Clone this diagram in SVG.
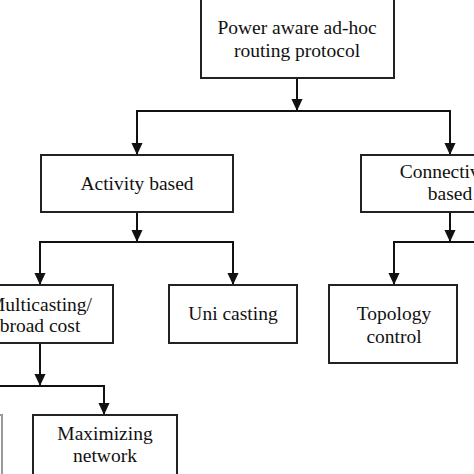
<svg xmlns="http://www.w3.org/2000/svg" width="474" height="474" viewBox="0 0 474 474">
<style>
.box{fill:#fff;stroke:#222;stroke-width:2}
.t{font-family:"Liberation Serif","Times New Roman",serif;font-size:19.5px;fill:#111;text-anchor:middle}
.c{fill:none;stroke:#111;stroke-width:2}
</style>
<defs>
<marker id="a" markerWidth="12" markerHeight="12" refX="13" refY="6" orient="auto" markerUnits="userSpaceOnUse" viewBox="0 0 13 12">
<path d="M0,0 L13,6 L0,12 Z" fill="#111"/>
</marker>
</defs>
<rect width="474" height="474" fill="#fff"/>
<g id="connectors">
<line class="c" x1="297" y1="78" x2="297" y2="111" marker-end="url(#a)"/>
<polyline class="c" points="137,154 137,111 450,111 450,154"/>
<line class="c" x1="137" y1="111" x2="137" y2="155" marker-end="url(#a)"/>
<line class="c" x1="450" y1="111" x2="450" y2="155" marker-end="url(#a)"/>
<line class="c" x1="137" y1="212" x2="137" y2="242" marker-end="url(#a)"/>
<polyline class="c" points="40,284 40,242 233,242 233,284"/>
<line class="c" x1="40" y1="242" x2="40" y2="285" marker-end="url(#a)"/>
<line class="c" x1="233" y1="242" x2="233" y2="285" marker-end="url(#a)"/>
<line class="c" x1="450" y1="212" x2="450" y2="242" marker-end="url(#a)"/>
<polyline class="c" points="394,284 394,242 476,242"/>
<line class="c" x1="394" y1="242" x2="394" y2="285" marker-end="url(#a)"/>
<line class="c" x1="40" y1="343" x2="40" y2="386" marker-end="url(#a)"/>
<polyline class="c" points="-2,386 104,386 104,414"/>
<line class="c" x1="104" y1="386" x2="104" y2="415" marker-end="url(#a)"/>
</g>
<g id="n-root">
<rect class="box" x="201" y="-4" width="193" height="82"/>
<text class="t" x="297" y="34">Power aware ad-hoc</text>
<text class="t" x="297" y="57">routing protocol</text>
</g>
<g id="n-activity">
<rect class="box" x="41" y="155" width="192" height="57"/>
<text class="t" x="137" y="190">Activity based</text>
</g>
<g id="n-connectivity">
<rect class="box" x="361" y="155" width="180" height="57"/>
<text class="t" x="450" y="178">Connectivity</text>
<text class="t" x="450" y="200">based</text>
</g>
<g id="n-multicasting">
<rect class="box" x="-40" y="285" width="153" height="58"/>
<text class="t" x="40" y="311">Multicasting/</text>
<text class="t" x="40" y="332">broad cost</text>
</g>
<g id="n-unicasting">
<rect class="box" x="169" y="285" width="128" height="58"/>
<text class="t" x="233" y="320">Uni casting</text>
</g>
<g id="n-topology">
<rect class="box" x="329" y="285" width="128" height="78"/>
<text class="t" x="394" y="320">Topology</text>
<text class="t" x="394" y="343">control</text>
</g>
<g id="n-left-bottom">
<rect x="-100" y="415" width="102" height="80" fill="#fff" stroke="#999" stroke-width="2"/>
</g>
<g id="n-maximizing">
<rect class="box" x="33" y="415" width="144" height="80"/>
<text class="t" x="105" y="440">Maximizing</text>
<text class="t" x="105" y="462">network</text>
</g>
</svg>
